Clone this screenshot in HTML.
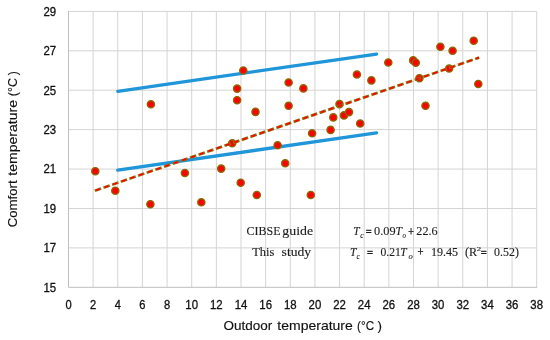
<!DOCTYPE html>
<html><head><meta charset="utf-8"><title>Comfort temperature vs outdoor temperature</title>
<style>html,body{margin:0;padding:0;background:#fff}body{width:550px;height:340px;overflow:hidden}svg{display:block}
.t{font-family:"Liberation Sans",sans-serif;fill:#111;stroke:#111;stroke-width:.3px}
.s{font-family:"Liberation Serif",serif;fill:#1c1c1c;stroke:#1c1c1c;stroke-width:.12px}
.i{font-style:italic}
.tt{stroke-width:.15px}
.b{stroke-width:.4px}
</style></head><body>
<svg width="550" height="340" viewBox="0 0 550 340">
<rect width="550" height="340" fill="#fff"/>
<g stroke="#d4d4d4" stroke-width="1" fill="none">
<line x1="93.14" y1="11.40" x2="93.14" y2="287.30"/>
<line x1="117.78" y1="11.40" x2="117.78" y2="287.30"/>
<line x1="142.43" y1="11.40" x2="142.43" y2="287.30"/>
<line x1="167.07" y1="11.40" x2="167.07" y2="287.30"/>
<line x1="191.71" y1="11.40" x2="191.71" y2="287.30"/>
<line x1="216.35" y1="11.40" x2="216.35" y2="287.30"/>
<line x1="240.99" y1="11.40" x2="240.99" y2="287.30"/>
<line x1="265.64" y1="11.40" x2="265.64" y2="287.30"/>
<line x1="290.28" y1="11.40" x2="290.28" y2="287.30"/>
<line x1="314.92" y1="11.40" x2="314.92" y2="287.30"/>
<line x1="339.56" y1="11.40" x2="339.56" y2="287.30"/>
<line x1="364.21" y1="11.40" x2="364.21" y2="287.30"/>
<line x1="388.85" y1="11.40" x2="388.85" y2="287.30"/>
<line x1="413.49" y1="11.40" x2="413.49" y2="287.30"/>
<line x1="438.13" y1="11.40" x2="438.13" y2="287.30"/>
<line x1="462.77" y1="11.40" x2="462.77" y2="287.30"/>
<line x1="487.42" y1="11.40" x2="487.42" y2="287.30"/>
<line x1="512.06" y1="11.40" x2="512.06" y2="287.30"/>
<line x1="536.70" y1="11.40" x2="536.70" y2="287.30"/>
<line x1="68.50" y1="11.40" x2="536.70" y2="11.40"/>
<line x1="68.50" y1="50.81" x2="536.70" y2="50.81"/>
<line x1="68.50" y1="90.23" x2="536.70" y2="90.23"/>
<line x1="68.50" y1="129.64" x2="536.70" y2="129.64"/>
<line x1="68.50" y1="169.06" x2="536.70" y2="169.06"/>
<line x1="68.50" y1="208.47" x2="536.70" y2="208.47"/>
<line x1="68.50" y1="247.89" x2="536.70" y2="247.89"/>
</g>
<path d="M68.50 10.90V287.30H537.20" fill="none" stroke="#bfbfbf" stroke-width="1"/>
<g stroke="#1f96d9" stroke-width="3.3" stroke-linecap="round" fill="none">
<line x1="117.78" y1="91.31" x2="376.53" y2="54.07"/>
<line x1="117.78" y1="170.14" x2="376.53" y2="132.89"/>
</g>
<g fill="#ff0000" stroke="#8c6800" stroke-width="1.4">
<circle cx="95.3" cy="171.2" r="3.6"/>
<circle cx="115.3" cy="190.7" r="3.6"/>
<circle cx="150.9" cy="104.3" r="3.6"/>
<circle cx="150.4" cy="204.2" r="3.6"/>
<circle cx="184.9" cy="173.0" r="3.6"/>
<circle cx="201.3" cy="202.3" r="3.6"/>
<circle cx="221.2" cy="168.6" r="3.6"/>
<circle cx="232.2" cy="143.3" r="3.6"/>
<circle cx="237.1" cy="88.6" r="3.6"/>
<circle cx="237.1" cy="100.2" r="3.6"/>
<circle cx="243.3" cy="70.5" r="3.6"/>
<circle cx="240.7" cy="182.7" r="3.6"/>
<circle cx="255.5" cy="111.9" r="3.6"/>
<circle cx="256.8" cy="195.0" r="3.6"/>
<circle cx="277.6" cy="145.3" r="3.6"/>
<circle cx="285.2" cy="163.3" r="3.6"/>
<circle cx="288.6" cy="82.5" r="3.6"/>
<circle cx="288.6" cy="105.8" r="3.6"/>
<circle cx="303.4" cy="88.4" r="3.6"/>
<circle cx="312.1" cy="133.3" r="3.6"/>
<circle cx="310.8" cy="195.0" r="3.6"/>
<circle cx="330.6" cy="129.9" r="3.6"/>
<circle cx="333.3" cy="117.4" r="3.6"/>
<circle cx="339.5" cy="104.1" r="3.6"/>
<circle cx="344.0" cy="115.4" r="3.6"/>
<circle cx="349.0" cy="112.1" r="3.6"/>
<circle cx="360.2" cy="123.5" r="3.6"/>
<circle cx="356.9" cy="74.5" r="3.6"/>
<circle cx="371.4" cy="80.4" r="3.6"/>
<circle cx="388.3" cy="62.5" r="3.6"/>
<circle cx="413.2" cy="60.4" r="3.6"/>
<circle cx="415.8" cy="62.7" r="3.6"/>
<circle cx="419.4" cy="78.2" r="3.6"/>
<circle cx="425.5" cy="105.8" r="3.6"/>
<circle cx="440.4" cy="46.8" r="3.6"/>
<circle cx="449.1" cy="68.5" r="3.6"/>
<circle cx="452.6" cy="50.8" r="3.6"/>
<circle cx="473.7" cy="40.7" r="3.6"/>
<circle cx="478.3" cy="84.0" r="3.6"/>
</g>
<line x1="94.8" y1="190.7" x2="479.1" y2="57.6" stroke="#94700a" stroke-width="2.8" stroke-dasharray="6.7 2.447" fill="none"/>
<line x1="94.8" y1="190.7" x2="479.1" y2="57.6" stroke="#ff0000" stroke-width="1.6" stroke-dasharray="4.1 5.047" stroke-dashoffset="-1.3" fill="none"/>
<g class="t" font-size="12">
<text x="56.2" y="15.70" text-anchor="end" textLength="12.7" lengthAdjust="spacingAndGlyphs">29</text>
<text x="56.2" y="55.11" text-anchor="end" textLength="12.7" lengthAdjust="spacingAndGlyphs">27</text>
<text x="56.2" y="94.53" text-anchor="end" textLength="12.7" lengthAdjust="spacingAndGlyphs">25</text>
<text x="56.2" y="133.94" text-anchor="end" textLength="12.7" lengthAdjust="spacingAndGlyphs">23</text>
<text x="56.2" y="173.36" text-anchor="end" textLength="12.7" lengthAdjust="spacingAndGlyphs">21</text>
<text x="56.2" y="212.77" text-anchor="end" textLength="12.7" lengthAdjust="spacingAndGlyphs">19</text>
<text x="56.2" y="252.19" text-anchor="end" textLength="12.7" lengthAdjust="spacingAndGlyphs">17</text>
<text x="56.2" y="291.60" text-anchor="end" textLength="12.7" lengthAdjust="spacingAndGlyphs">15</text>
<text x="68.50" y="308.7" text-anchor="middle" textLength="6.2" lengthAdjust="spacingAndGlyphs">0</text>
<text x="93.14" y="308.7" text-anchor="middle" textLength="6.2" lengthAdjust="spacingAndGlyphs">2</text>
<text x="117.78" y="308.7" text-anchor="middle" textLength="6.2" lengthAdjust="spacingAndGlyphs">4</text>
<text x="142.43" y="308.7" text-anchor="middle" textLength="6.2" lengthAdjust="spacingAndGlyphs">6</text>
<text x="167.07" y="308.7" text-anchor="middle" textLength="6.2" lengthAdjust="spacingAndGlyphs">8</text>
<text x="191.71" y="308.7" text-anchor="middle" textLength="12.7" lengthAdjust="spacingAndGlyphs">10</text>
<text x="216.35" y="308.7" text-anchor="middle" textLength="12.7" lengthAdjust="spacingAndGlyphs">12</text>
<text x="240.99" y="308.7" text-anchor="middle" textLength="12.7" lengthAdjust="spacingAndGlyphs">14</text>
<text x="265.64" y="308.7" text-anchor="middle" textLength="12.7" lengthAdjust="spacingAndGlyphs">16</text>
<text x="290.28" y="308.7" text-anchor="middle" textLength="12.7" lengthAdjust="spacingAndGlyphs">18</text>
<text x="314.92" y="308.7" text-anchor="middle" textLength="12.7" lengthAdjust="spacingAndGlyphs">20</text>
<text x="339.56" y="308.7" text-anchor="middle" textLength="12.7" lengthAdjust="spacingAndGlyphs">22</text>
<text x="364.21" y="308.7" text-anchor="middle" textLength="12.7" lengthAdjust="spacingAndGlyphs">24</text>
<text x="388.85" y="308.7" text-anchor="middle" textLength="12.7" lengthAdjust="spacingAndGlyphs">26</text>
<text x="413.49" y="308.7" text-anchor="middle" textLength="12.7" lengthAdjust="spacingAndGlyphs">28</text>
<text x="438.13" y="308.7" text-anchor="middle" textLength="12.7" lengthAdjust="spacingAndGlyphs">30</text>
<text x="462.77" y="308.7" text-anchor="middle" textLength="12.7" lengthAdjust="spacingAndGlyphs">32</text>
<text x="487.42" y="308.7" text-anchor="middle" textLength="12.7" lengthAdjust="spacingAndGlyphs">34</text>
<text x="512.06" y="308.7" text-anchor="middle" textLength="12.7" lengthAdjust="spacingAndGlyphs">36</text>
<text x="536.70" y="308.7" text-anchor="middle" textLength="12.7" lengthAdjust="spacingAndGlyphs">38</text>
</g>
<g>
<text class="t tt" font-size="13.3" x="223.51" y="330.4" textLength="48.76" lengthAdjust="spacingAndGlyphs">Outdoor</text>
<text class="t tt" font-size="13.3" x="277.33" y="330.4" textLength="75.46" lengthAdjust="spacingAndGlyphs">temperature</text>
<text class="t tt" font-size="13.3" x="357.11" y="330.4" textLength="16.97" lengthAdjust="spacingAndGlyphs">(°C</text>
<text class="t tt" font-size="13.3" x="377.39" y="330.4" textLength="4.43" lengthAdjust="spacingAndGlyphs">)</text>
</g>
<g transform="translate(16.8 226.7) rotate(-90)">
<text class="t tt" font-size="13.3" x="-0.59" y="0" textLength="46.98" lengthAdjust="spacingAndGlyphs">Comfort</text>
<text class="t tt" font-size="13.3" x="50.93" y="0" textLength="75.77" lengthAdjust="spacingAndGlyphs">temperature</text>
<text class="t tt" font-size="13.3" x="130.57" y="0" textLength="18.03" lengthAdjust="spacingAndGlyphs">(°C</text>
<text class="t tt" font-size="13.3" x="151.48" y="0" textLength="4.05" lengthAdjust="spacingAndGlyphs">)</text>
</g>
<g>
<text class="s" font-size="12.4" x="246.56" y="235.0" textLength="33.92" lengthAdjust="spacingAndGlyphs">CIBSE</text>
<text class="s" font-size="12.4" x="282.38" y="235.0" textLength="30.79" lengthAdjust="spacingAndGlyphs">guide</text>
<text class="s" font-size="12.4" x="252.17" y="255.6" textLength="22.09" lengthAdjust="spacingAndGlyphs">This</text>
<text class="s" font-size="12.4" x="281.61" y="255.6" textLength="29.55" lengthAdjust="spacingAndGlyphs">study</text>
<text class="s i" font-size="12.4" x="353.19" y="235.0" textLength="6.38" lengthAdjust="spacingAndGlyphs">T</text>
<text class="s i" font-size="8.8" x="360.15" y="238.0" textLength="3.32" lengthAdjust="spacingAndGlyphs">c</text>
<text class="s b" font-size="9.8" x="365.88" y="235.1" textLength="5.93" lengthAdjust="spacingAndGlyphs">=</text>
<text class="s" font-size="12.4" x="374.12" y="235.0" textLength="21.51" lengthAdjust="spacingAndGlyphs">0.09</text>
<text class="s i" font-size="12.4" x="395.54" y="235.0" textLength="6.49" lengthAdjust="spacingAndGlyphs">T</text>
<text class="s i" font-size="8.8" x="402.62" y="238.0" textLength="3.48" lengthAdjust="spacingAndGlyphs">o</text>
<text class="s b" font-size="12.4" x="408.15" y="235.6" textLength="5.62" lengthAdjust="spacingAndGlyphs">+</text>
<text class="s" font-size="12.4" x="416.31" y="235.0" textLength="21.40" lengthAdjust="spacingAndGlyphs">22.6</text>
<text class="s i" font-size="12.4" x="349.91" y="255.6" textLength="6.42" lengthAdjust="spacingAndGlyphs">T</text>
<text class="s i" font-size="8.8" x="356.40" y="258.6" textLength="3.30" lengthAdjust="spacingAndGlyphs">c</text>
<text class="s b" font-size="9.8" x="367.08" y="256.2" textLength="6.03" lengthAdjust="spacingAndGlyphs">=</text>
<text class="s" font-size="12.4" x="380.53" y="255.6" textLength="20.38" lengthAdjust="spacingAndGlyphs">0.21</text>
<text class="s i" font-size="12.4" x="400.19" y="255.6" textLength="6.38" lengthAdjust="spacingAndGlyphs">T</text>
<text class="s i" font-size="8.8" x="408.39" y="258.6" textLength="4.26" lengthAdjust="spacingAndGlyphs">o</text>
<text class="s b" font-size="12.4" x="417.59" y="256.2" textLength="6.05" lengthAdjust="spacingAndGlyphs">+</text>
<text class="s" font-size="12.4" x="430.90" y="255.6" textLength="27.09" lengthAdjust="spacingAndGlyphs">19.45</text>
<text class="s" font-size="12.4" x="465.07" y="255.6" textLength="12.18" lengthAdjust="spacingAndGlyphs">(R</text>
<text class="s" font-size="6.4" x="476.88" y="251.0" textLength="4.39" lengthAdjust="spacingAndGlyphs">2</text>
<text class="s b" font-size="9.8" x="480.78" y="256.2" textLength="6.03" lengthAdjust="spacingAndGlyphs">=</text>
<text class="s" font-size="12.4" x="494.01" y="255.6" textLength="24.85" lengthAdjust="spacingAndGlyphs">0.52)</text>
</g>
</svg>
</body></html>
